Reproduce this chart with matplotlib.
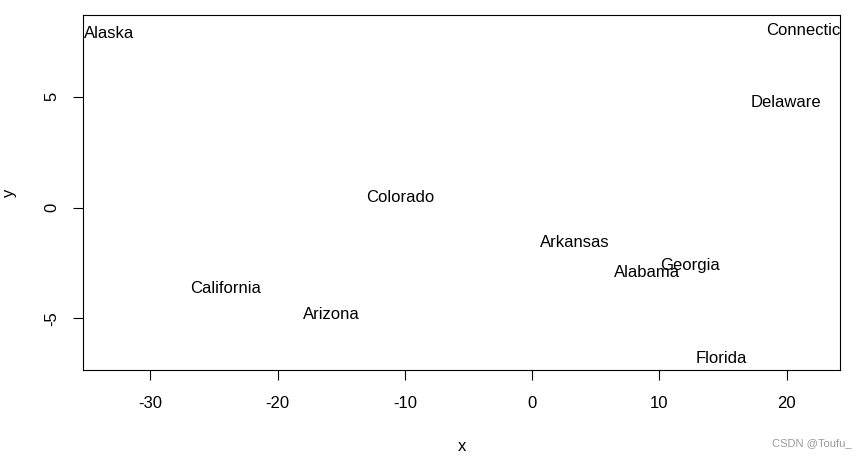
import matplotlib.pyplot as plt

plt.rcParams['font.family'] = ['Liberation Sans', 'DejaVu Sans']
plt.rcParams['axes.unicode_minus'] = False

# label positions
states = ['Alabama', 'Alaska', 'Arizona', 'Arkansas', 'California',
          'Colorado', 'Connecticut', 'Delaware', 'Florida', 'Georgia']
x = [9.2, -33.1, -15.6, 3.5, -23.9, -10.2, 22.0, 20.1, 15.0, 12.6]
y = [-2.85, 7.96, -4.75, -1.5, -3.57, 0.54, 8.1, 4.84, -6.74, -2.53]

fig = plt.figure(figsize=(8.65, 4.62), dpi=100)
ax = fig.add_axes([83 / 865, 92 / 462, 757 / 865, 355 / 462])

for s, xi, yi in zip(states, x, y):
    ax.annotate(s, (xi, yi), xytext=(-1.5, -1.5), textcoords='offset points',
                ha='center', va='center', fontsize=12, annotation_clip=False,
                clip_on=True)

# R style 4% padding
xr = max(x) - min(x)
yr = max(y) - min(y)
ax.set_xlim(min(x) - 0.04 * xr, max(x) + 0.04 * xr)
ax.set_ylim(min(y) - 0.04 * yr, max(y) + 0.04 * yr)

ax.set_xticks([-30, -20, -10, 0, 10, 20])
ax.set_yticks([-5, 0, 5])
ax.tick_params(labelsize=12, length=7, width=0.8, pad=10)
ax.tick_params(axis='x', pad=12)
for lab in ax.get_yticklabels():
    lab.set_rotation(90)
    lab.set_va('center')
ax.set_xlabel('x', fontsize=12, labelpad=20)
ax.set_ylabel('y', fontsize=12, labelpad=20)
for sp in ax.spines.values():
    sp.set_linewidth(0.8)

fig.text(0.985, 0.03, 'CSDN @Toufu_', ha='right', va='bottom',
         fontsize=8, color='#999999')

fig.savefig('out.png', dpi=100)
